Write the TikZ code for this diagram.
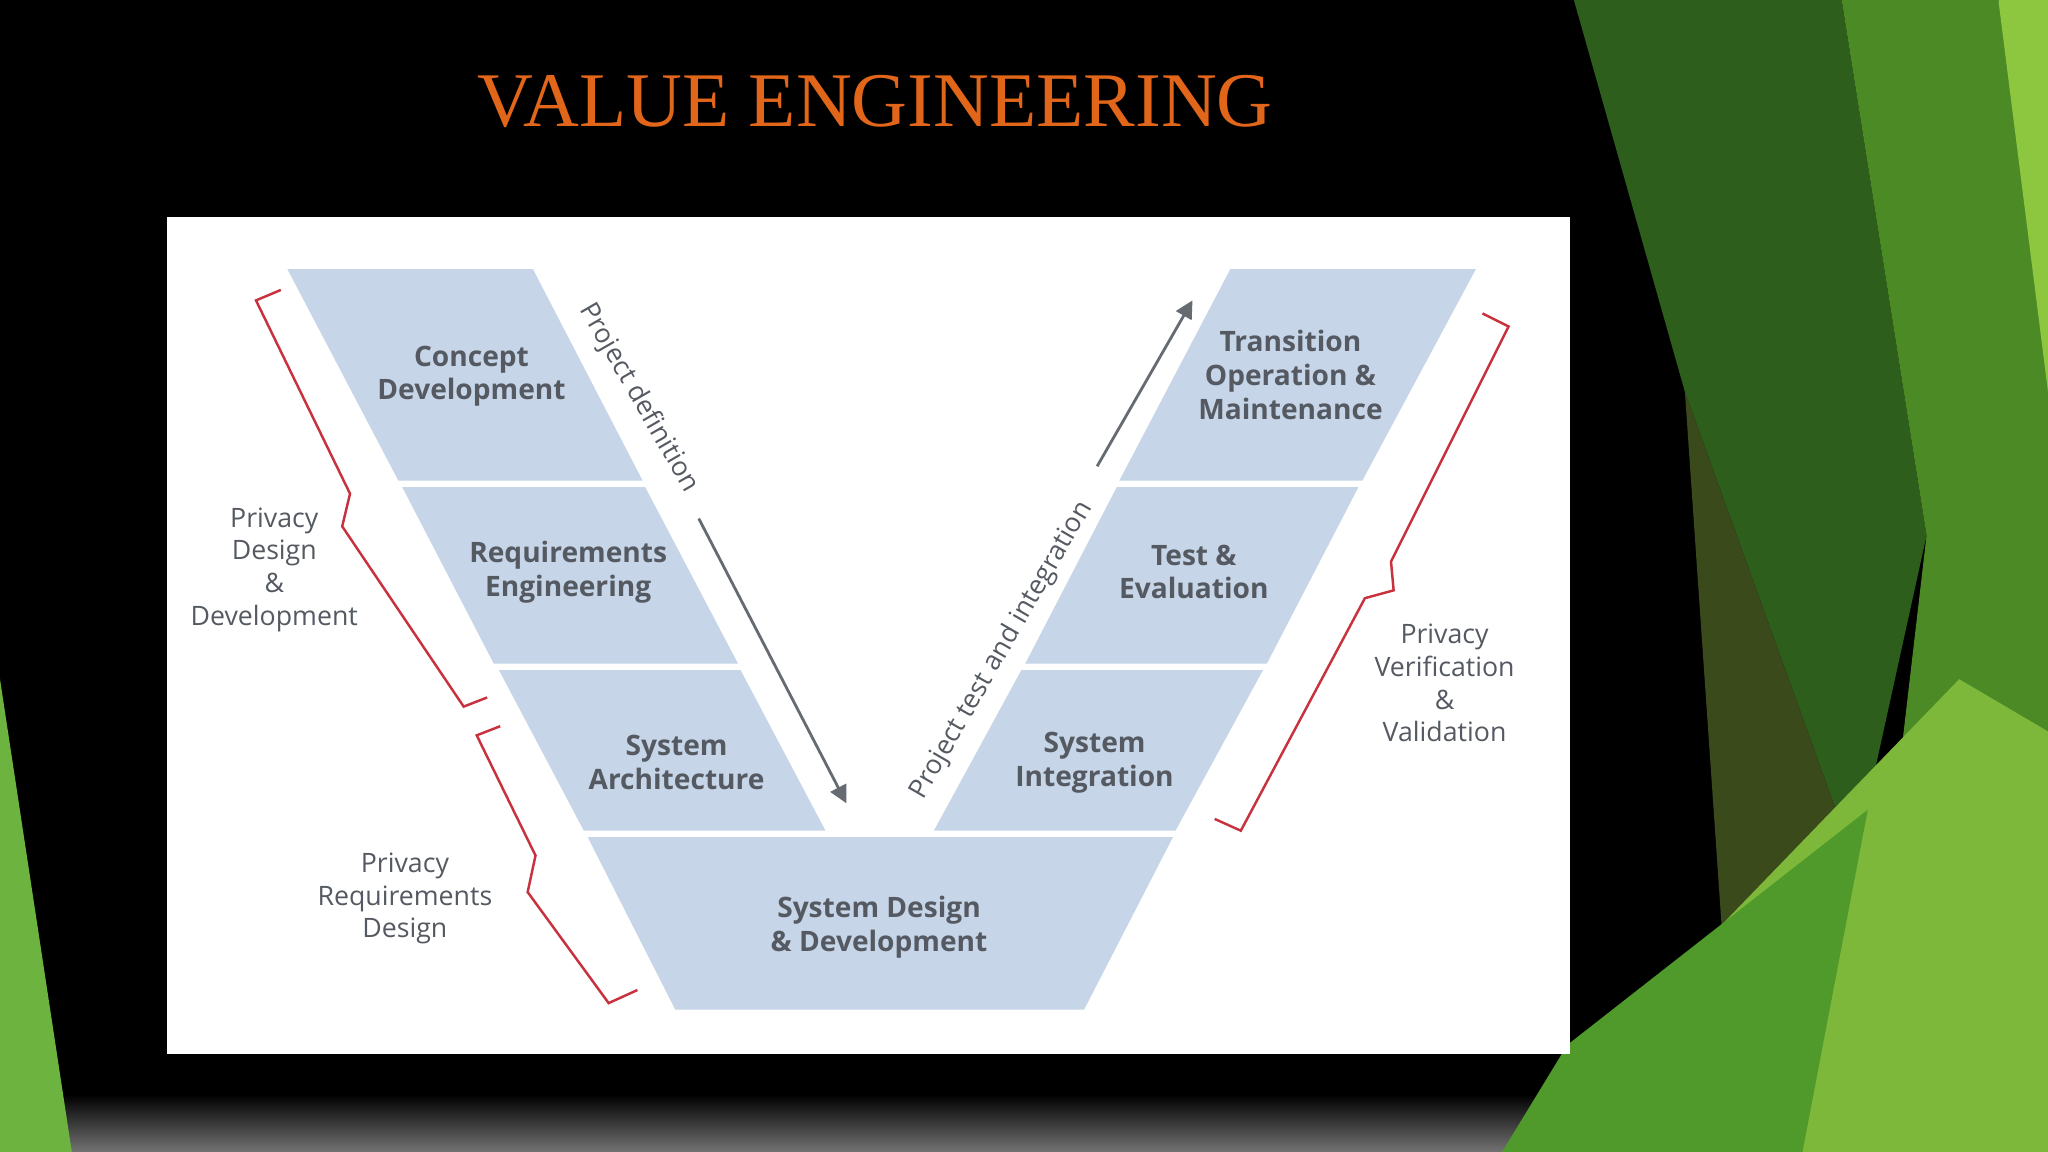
\documentclass[tikz,border=0pt]{standalone}
\usepackage{fontspec}
\setmainfont{Liberation Serif}
\newfontfamily\boxfont{Open Sans}
\usetikzlibrary{arrows.meta}
\definecolor{boxc}{HTML}{C6D5E7}
\definecolor{txt}{HTML}{555A62}
\definecolor{brc}{HTML}{C8323E}
\definecolor{ttl}{HTML}{E2661A}
\definecolor{gA}{HTML}{2D5E1B}
\definecolor{gB}{HTML}{4C8A26}
\definecolor{gC}{HTML}{8DC63F}
\definecolor{gD}{HTML}{3A4A1A}
\definecolor{gE}{HTML}{7DB83A}
\definecolor{gF}{HTML}{4F9A2A}
\definecolor{gG}{HTML}{6DB33F}
\tikzset{
  blk/.style={fill=boxc,draw=none},
  lbl/.style={font=\boxfont\bfseries\fontsize{8}{9.6}\selectfont,text=txt,align=center},
  side/.style={font=\boxfont\fontsize{7.6}{9.3}\selectfont,text=txt,align=center},
  brace/.style={draw=brc,line width=0.7pt,line join=miter},
  flow/.style={draw=txt!90,line width=0.8pt,-{Triangle[length=5pt,width=5pt]}},
  ftxt/.style={font=\boxfont\fontsize{7.6}{9}\selectfont,text=txt}
}
\begin{document}
\begin{tikzpicture}[x=0.013061cm,y=-0.013061cm]
\useasboundingbox (0,0) rectangle (1568,882);
\fill[black] (0,0) rectangle (1568,882);
\shade[top color=black,bottom color=black!55!white] (0,838) rectangle (1568,882);
% greens
\fill[gA] (1205,0)--(1410,0)--(1475,410)--(1420,660)--(1290,300)--cycle;
\fill[gB] (1410,0)--(1530,0)--(1568,200)--(1568,882)--(1420,882)--(1475,410)--cycle;
\fill[gC] (1530,0)--(1568,0)--(1568,300)--cycle;
\fill[gD] (1290,300)--(1420,660)--(1360,882)--(1330,882)--cycle;
\fill[gE] (1150,882)--(1500,520)--(1568,560)--(1568,882)--cycle;
\fill[gF] (1200,800)--(1430,620)--(1380,882)--(1150,882)--cycle;
\fill[gG] (0,520)--(0,882)--(55,882)--cycle;
% title
\node[font=\fontsize{22}{26}\selectfont,text=ttl] (title) at (670,78) {VALUE ENGINEERING};
% white panel
\fill[white] (128,166) rectangle (1202,807);
% blocks
\fill[blk] (220,206)--(408,206)--(492,368)--(305,368)--cycle;
\fill[blk] (308,373)--(494,373)--(565,508)--(378,508)--cycle;
\fill[blk] (382,513)--(567,513)--(632,636)--(447,636)--cycle;
\fill[blk] (450,641)--(898,641)--(830,773)--(517,773)--cycle;
\fill[blk] (942,206)--(1130,206)--(1043,368)--(857,368)--cycle;
\fill[blk] (855,373)--(1040,373)--(970,508)--(785,508)--cycle;
\fill[blk] (782,513)--(967,513)--(900,636)--(715,636)--cycle;
\node[lbl] (cd) at (361,288) {Concept\\Development};
\node[lbl] (re) at (435,438) {Requirements\\Engineering};
\node[lbl] (sa) at (518,584) {System\\Architecture};
\node[lbl] (sd) at (673,710) {System Design\\\& Development};
\node[lbl] (tr) at (988,287) {Transition\\Operation \&\\Maintenance};
\node[lbl] (te) at (914,438) {Test \&\\Evaluation};
\node[lbl] (si) at (838,584) {System\\Integration};
% flow arrows
\coordinate (a1) at (535,397); \coordinate (a2) at (648,615);
\draw[flow] (a1)--(a2);
\coordinate (b1) at (840,357); \coordinate (b2) at (913,230);
\draw[flow] (b1)--(b2);
\node[ftxt,rotate=-60] (pd) at (489,305) {Project definition};
\node[ftxt,rotate=60] (pt) at (767,498) {Project test and integration};
% braces
\draw[brace] (215,222)--(196,230)--(268,378)--(262,403)--(355,541)--(373,534);
\draw[brace] (383,556)--(365,563)--(410,655)--(404,683)--(466,768)--(488,758);
\draw[brace] (1135,240)--(1155,250)--(1065,430)--(1067,452)--(1045,458)--(950,636)--(930,627);
\node[side] (pdd) at (210,436) {Privacy\\Design\\\&\\Development};
\node[side] (prd) at (310,688) {Privacy\\Requirements\\Design};
\node[side] (pvv) at (1106,523) {Privacy\\Verification\\\&\\Validation};
\end{tikzpicture}
\end{document}
